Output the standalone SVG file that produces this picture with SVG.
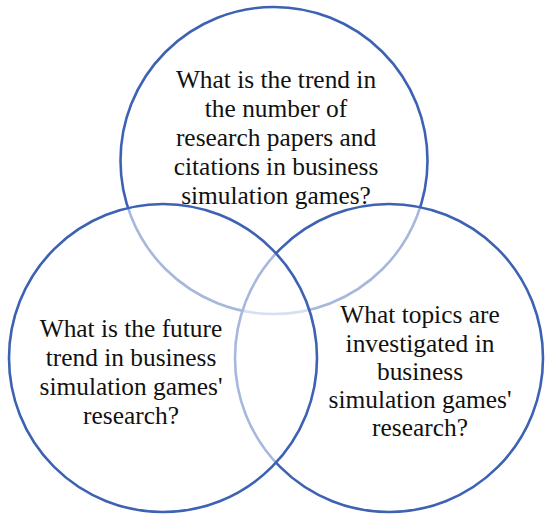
<svg xmlns="http://www.w3.org/2000/svg" width="550" height="521" viewBox="0 0 550 521">
<style>
.c{fill:#ffffff;fill-opacity:0.55;stroke:#3d62b3;stroke-width:2.6}
.t{font-family:"Liberation Serif","Times New Roman",serif;font-size:25.4px;fill:#111111;text-anchor:middle}
</style>
<rect width="550" height="521" fill="#ffffff"/>
<g id="top">
<circle class="c" cx="274" cy="160.5" r="153.5"/>
<text class="t" x="276" y="88">What is the trend in</text>
<text class="t" x="276" y="117">the number of</text>
<text class="t" x="276" y="146">research papers and</text>
<text class="t" x="276" y="175">citations in business</text>
<text class="t" x="276" y="204">simulation games?</text>
</g>
<g id="right">
<circle class="c" cx="389" cy="358" r="154"/>
<text class="t" x="420" y="323">What topics are</text>
<text class="t" x="420" y="351.5">investigated in</text>
<text class="t" x="420" y="379.5">business</text>
<text class="t" x="420" y="407.5">simulation games'</text>
<text class="t" x="420" y="436">research?</text>
</g>
<g id="left">
<circle class="c" cx="163" cy="358" r="154"/>
<text class="t" x="131" y="336.5">What is the future</text>
<text class="t" x="131" y="365.5">trend in business</text>
<text class="t" x="131" y="394.5">simulation games'</text>
<text class="t" x="131" y="423.5">research?</text>
</g>
<g id="connectors"></g>
</svg>
